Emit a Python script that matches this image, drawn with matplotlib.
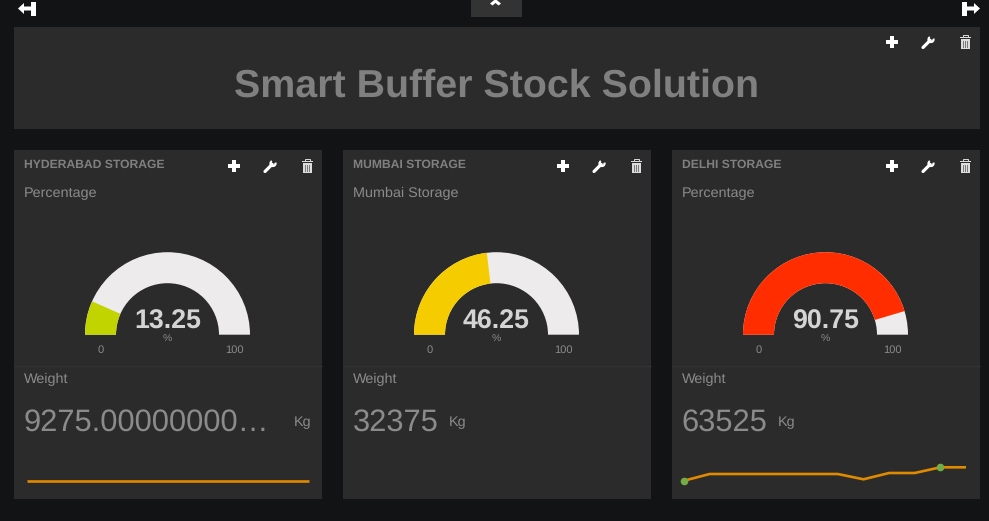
"""
plot.py

Freeboard style dashboard: three storage panels, each with a half gauge,
a weight readout and (where there is history) a sparkline.
"""

import matplotlib
matplotlib.use("Agg")
import matplotlib.pyplot as plt
from matplotlib.patches import Circle, Polygon, Rectangle, Wedge

W, H = 989, 521
BG = "#111315"
PANEL = "#2b2b2b"
TEXT = "#8b8b8b"

TITLE = "Smart Buffer Stock Solution"
panel_titles = ["HYDERABAD STORAGE", "MUMBAI STORAGE", "DELHI STORAGE"]
gauge_titles = ["Percentage", "Mumbai Storage", "Percentage"]
gauge_values = [13.25, 46.25, 90.75]
gauge_labels = ["13.25", "46.25", "90.75"]
gauge_colors = ["#c1d400", "#f4cc00", "#ff2d00"]
gauge_min, gauge_max = 0, 100
weight_labels = ["9275.00000000\u2026", "32375", "63525"]
weight_unit = "Kg"
hyderabad_weight = [9275] * 12
delhi_weight = [61515, 62520, 62520, 62520, 62520, 62520, 62520,
                61725, 62670, 62670, 63525, 63525]

plt.rcParams["font.family"] = ["Liberation Sans", "DejaVu Sans"]
plt.rcParams["text.hinting"] = "no_hinting"

fig = plt.figure(figsize=(W / 100, H / 100), dpi=100, facecolor=BG)
bg = fig.add_axes([0, 0, 1, 1])
bg.set_xlim(0, W)
bg.set_ylim(H, 0)
bg.axis("off")


def px_axes(x0, y0, x1, y1):
    # axes placed by its pixel box, y measured from the top
    ax = fig.add_axes([x0 / W, 1 - y1 / H, (x1 - x0) / W, (y1 - y0) / H])
    ax.axis("off")
    ax.patch.set_alpha(0)
    return ax


def icon_plus(cx, cy):
    bg.add_patch(Rectangle((cx - 6, cy - 1.6), 12, 3.2, color="white", lw=0))
    bg.add_patch(Rectangle((cx - 1.6, cy - 6), 3.2, 12, color="white", lw=0))


def icon_wrench(cx, cy):
    bg.plot([cx - 5, cx + 2], [cy + 5.5, cy - 1.5], color="white", lw=2.3,
            solid_capstyle="round")
    bg.add_patch(Wedge((cx + 3, cy - 2.5), 3.6, -20, 245, width=2.2,
                       color="white", lw=0))
    bg.add_patch(Circle((cx + 2, cy - 1.5), 1.6, color="white", lw=0))


def icon_trash(cx, cy):
    bg.add_patch(Rectangle((cx - 5.5, cy - 5), 11, 1.4, color="#dddddd", lw=0))
    bg.add_patch(Rectangle((cx - 2.5, cy - 6.8), 5, 2, fill=False, ec="#dddddd", lw=0.7))
    bg.add_patch(Rectangle((cx - 4.5, cy - 3), 9, 9.5, color="#dddddd", lw=0))
    for dx in (-2, 0, 2):
        bg.plot([cx + dx, cx + dx], [cy - 1.5, cy + 5], color="#777777", lw=0.7)


def icons(plus_x, wrench_x, trash_x, cy):
    icon_plus(plus_x, cy)
    icon_wrench(wrench_x, cy)
    icon_trash(trash_x, cy)


def draw_gauge(cx, value, color, label):
    base, outer, inner = 334.7, 82.5, 51.5
    ax = px_axes(cx - outer, base - outer, cx + outer, base)
    ax.set_xlim(-1, 1)
    ax.set_ylim(0, 1)
    split = 180 - 180 * (value - gauge_min) / (gauge_max - gauge_min)
    width = 1 - inner / outer
    # full grey track first so no seam shows at the split
    ax.add_patch(Wedge((0, 0), 1, 0, 180, width=width, color="#edebeb", lw=0))
    ax.add_patch(Wedge((0, 0), 1, split, 180, width=width, color=color, lw=0))
    bg.text(cx, 321.5, label, ha="center", va="center", fontsize=19.3,
            fontweight="bold", color="#d4d4d4")
    bg.text(cx, 339.5, "%", ha="center", va="center", fontsize=7.5, color=TEXT)
    bg.text(cx - 67, 350, str(gauge_min), ha="center", va="center",
            fontsize=8, color=TEXT)
    bg.text(cx + 67, 350, str(gauge_max), ha="center", va="center",
            fontsize=8, color=TEXT)


def draw_spark(box, values, markers=False):
    ax = px_axes(*box)
    ax.set_xlim(0, len(values) - 1)
    lo, hi = min(values), max(values)
    if lo == hi:
        lo, hi = lo - 1, hi + 1
    ax.set_ylim(lo, hi)
    ax.plot(range(len(values)), values, color="#e08a00", lw=1.9, clip_on=False,
            solid_joinstyle="miter", solid_capstyle="butt")
    if markers:
        low = values.index(min(values))
        high = values.index(max(values))
        ax.plot([low, high], [values[low], values[high]], "o", color="#74ad45",
                ms=5.5, mew=0, clip_on=False)


# top strip, title panel
bg.add_patch(Rectangle((471, 0), 51, 16.5, color="#333333", lw=0))
bg.add_patch(Rectangle((14, 27), 966, 102, color=PANEL, lw=0))
bg.text(496.5, 87, TITLE, ha="center", va="center", fontsize=28.4,
        fontweight="bold", color="#808080")
icons(892, 928, 965, 42)

# window arrows at the top corners
bg.add_patch(Rectangle((31, 1.5), 5, 14, color="white", lw=0))
bg.add_patch(Polygon([(18, 8.5), (24, 3), (24, 6.5), (31, 6.5), (31, 10.5), (24, 10.5), (24, 14)],
                     color="white", lw=0))
bg.add_patch(Rectangle((962, 1.5), 5, 14, color="white", lw=0))
bg.add_patch(Polygon([(980, 8.5), (974, 3), (974, 6.5), (967, 6.5), (967, 10.5), (974, 10.5), (974, 14)],
                     color="white", lw=0))
bg.add_patch(Polygon([(490, 3.5), (495.5, -1), (501, 3.5), (498.5, 5.5), (495.5, 3), (492.5, 5.5)],
                     color="white", lw=0))

panel_lefts = [14, 343, 672]
gauge_centers = [167.5, 496.5, 825.5]
unit_x = [302.5, 457.5, 786.5]

for i, x0 in enumerate(panel_lefts):
    bg.add_patch(Rectangle((x0, 150), 308, 349, color=PANEL, lw=0))
    bg.plot([x0, x0 + 308], [366, 366], color="#333333", lw=1, solid_capstyle="butt")
    bg.text(x0 + 10, 164.5, panel_titles[i], va="center", fontsize=8.7,
            fontweight="bold", color="#808080")
    icons(x0 + 220, x0 + 256, x0 + 293, 166)
    bg.text(x0 + 10, 193.5, gauge_titles[i], va="center", fontsize=10.4, color=TEXT)
    draw_gauge(gauge_centers[i], gauge_values[i], gauge_colors[i], gauge_labels[i])
    bg.text(x0 + 10, 379.5, "Weight", va="center", fontsize=10.4, color=TEXT)
    bg.text(x0 + 9.5, 422.5, weight_labels[i], va="center", fontsize=22.2, color=TEXT)
    bg.text(unit_x[i], 422.5, weight_unit, ha="center", va="center", fontsize=10.4,
            color=TEXT)

draw_spark((27, 480.3, 309, 482.3), hyderabad_weight)
draw_spark((684, 467.3, 966, 480.7), delhi_weight, markers=True)

fig.savefig("out.png", dpi=100, facecolor=BG)
plt.close(fig)
